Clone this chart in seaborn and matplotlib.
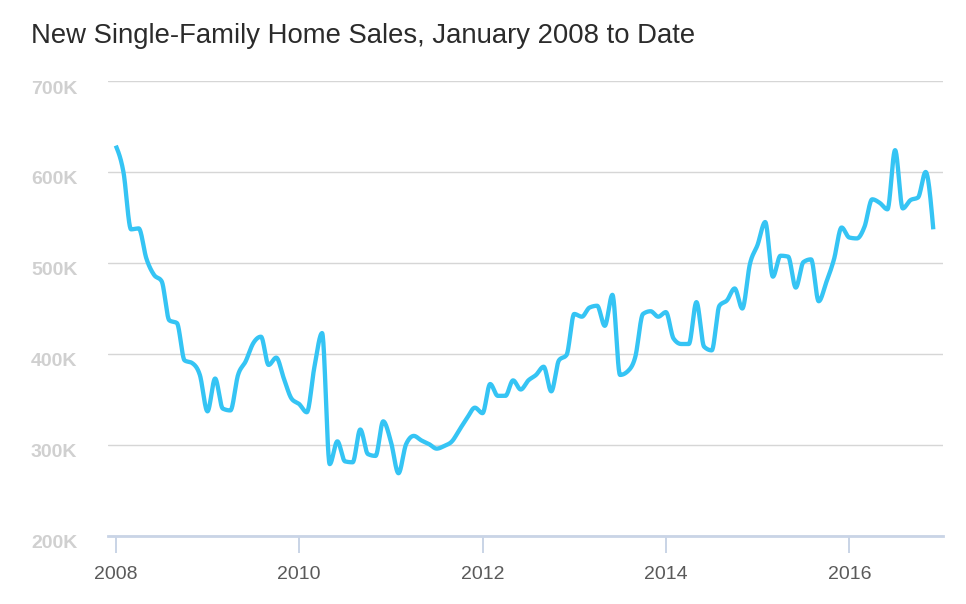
import numpy as np
import pandas as pd
import matplotlib
matplotlib.use("Agg")
import matplotlib.pyplot as plt
import matplotlib.transforms as mtransforms
import seaborn as sns

# ---- data (thousands, seasonally adjusted annual rate), Jan 2008 .. Dec 2016 ----
sales_2008 = [629, 600, 537, 538, 505, 487, 480, 437, 434, 393, 390, 377]
sales_2009 = [337, 373, 340, 338, 377, 392, 412, 419, 388, 396, 373, 351]
sales_2010 = [345, 336, 386, 423, 279, 304, 282, 281, 317, 290, 288, 326]
sales_2011 = [304, 269, 301, 310, 305, 301, 296, 299, 304, 317, 330, 341]
sales_2012 = [335, 367, 354, 354, 371, 361, 371, 377, 386, 359, 393, 399]
sales_2013 = [444, 441, 451, 453, 431, 465, 377, 381, 397, 444, 447, 441]
sales_2014 = [446, 417, 411, 411, 457, 408, 404, 453, 459, 472, 450, 499]
sales_2015 = [520, 545, 485, 508, 507, 473, 501, 504, 458, 479, 504, 539]
sales_2016 = [528, 527, 540, 570, 566, 559, 624, 560, 569, 572, 600, 537]
years = [2008, 2009, 2010, 2011, 2012, 2013, 2014, 2015, 2016]
x_tick_years = [2008, 2010, 2012, 2014, 2016]
y_tick_values = [200, 300, 400, 500, 600, 700]
y_tick_labels = ["200K", "300K", "400K", "500K", "600K", "700K"]
title = "New Single-Family Home Sales, January 2008 to Date"

all_sales = (sales_2008 + sales_2009 + sales_2010 + sales_2011 + sales_2012 +
             sales_2013 + sales_2014 + sales_2015 + sales_2016)
t = np.array([y + m / 12.0 for y in years for m in range(12)])
v = np.array(all_sales, dtype=float) * 1000.0


# monotone (Steffen / d3 curveMonotoneX) rendering of the line through the data
def monotone_curve(x, y, n=24):
    h = np.diff(x)
    s = np.diff(y) / h
    m = np.zeros_like(y)
    for i in range(1, len(y) - 1):
        p = (s[i - 1] * h[i] + s[i] * h[i - 1]) / (h[i - 1] + h[i])
        m[i] = (np.sign(s[i - 1]) + np.sign(s[i])) * min(abs(s[i - 1]), abs(s[i]), 0.5 * abs(p))
    m[0] = (3 * s[0] - m[1]) / 2
    m[-1] = (3 * s[-1] - m[-2]) / 2
    xs, ys = [], []
    for i in range(len(h)):
        u = np.linspace(0, 1, n, endpoint=False)
        h00 = 2 * u**3 - 3 * u**2 + 1
        h10 = u**3 - 2 * u**2 + u
        h01 = -2 * u**3 + 3 * u**2
        h11 = u**3 - u**2
        xs.append(x[i] + u * h[i])
        ys.append(h00 * y[i] + h10 * h[i] * m[i] + h01 * y[i + 1] + h11 * h[i] * m[i + 1])
    xs.append([x[-1]])
    ys.append([y[-1]])
    return np.concatenate(xs), np.concatenate(ys)


cx, cy = monotone_curve(t, v)
df = pd.DataFrame({"date": cx, "sales": cy})

sns.set_theme(style="white")
plt.rcParams["font.family"] = ["Liberation Sans", "DejaVu Sans"]

fig = plt.figure(figsize=(9.66, 6.04), dpi=100)
ax = fig.add_axes([108 / 966, 1 - 536 / 604, 835 / 966, 455 / 604])

sns.lineplot(data=df, x="date", y="sales", ax=ax, color="#35c4f4",
             linewidth=3.1, sort=False, solid_capstyle="butt", zorder=3)

ax.set_xlim(2008 - 7.8 / 91.7, 2008 + 107 / 12 + 9.7 / 91.7)
ax.set_ylim(200000, 700000)
ax.set_xlabel("")
ax.set_ylabel("")

ax.set_yticks([val * 1000 for val in y_tick_values])
ax.set_yticklabels([])
ax.tick_params(axis="y", length=0, left=False)
ax.grid(axis="y", color="#d6d6d6", linewidth=1.0)
ax.grid(axis="x", visible=False)

ax.set_xticks(x_tick_years)
ax.set_xticklabels([str(y) for y in x_tick_years])
ax.tick_params(axis="x", bottom=True, length=12.5, width=1.4, color="#c9d4e6",
               labelcolor="#5a5a5a", labelsize=14, pad=9, direction="out")

for side in ["top", "right", "left"]:
    ax.spines[side].set_visible(False)
ax.spines["bottom"].set_color("#c9d4e6")
ax.spines["bottom"].set_linewidth(2.0)
ax.spines["bottom"].set_zorder(4)

blend = mtransforms.blended_transform_factory(fig.transFigure, ax.transData)
offset = mtransforms.ScaledTranslation(0, -8 / 100, fig.dpi_scale_trans)
for val, lab in zip(y_tick_values, y_tick_labels):
    ax.text(31 / 966, val * 1000, lab, transform=blend + offset,
            ha="left", va="center", fontsize=14, fontweight="bold",
            color="#d0d0d0", clip_on=False)

fig.text(31 / 966, 1 - 36 / 604, title, ha="left", va="center",
         fontsize=19.8, color="#2b2b2b")

fig.savefig("out.png", dpi=100, facecolor="white")
